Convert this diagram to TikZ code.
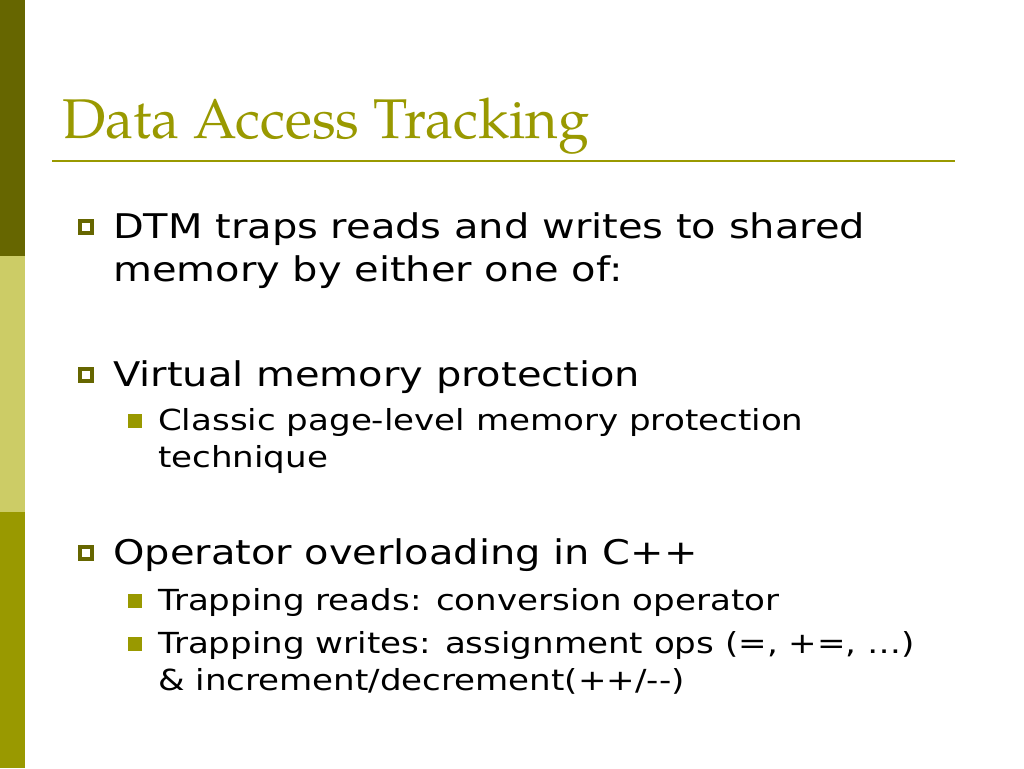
\documentclass[tikz,border=0pt]{standalone}
\usepackage{fontspec}
\setmainfont{DejaVu Sans}[FakeStretch=1.175]
\newfontfamily\titlefont{TeX Gyre Pagella}
\definecolor{dark}{RGB}{102,102,0}
\definecolor{light}{RGB}{204,204,102}
\definecolor{mid}{RGB}{153,153,0}
\definecolor{ttl}{RGB}{153,153,0}
\begin{document}
\begin{tikzpicture}[x=1pt,y=-1pt,
  txt/.style={anchor=base west,inner sep=0pt,font=\fontsize{34}{34}\selectfont},
  sub/.style={anchor=base west,inner sep=0pt,font=\fontsize{29}{29}\selectfont},
  hb/.style={draw=dark,line width=4pt,minimum size=12pt,inner sep=0pt},
  fb/.style={fill=mid,minimum size=14pt,inner sep=0pt}]
\useasboundingbox (0,0) rectangle (1024,768);
\fill[white] (0,0) rectangle (1024,768);
\fill[dark] (0,0) rectangle (25,256);
\fill[light] (0,256) rectangle (25,512);
\fill[mid] (0,512) rectangle (25,768);
\node[anchor=base west,inner sep=0pt,text=ttl,font=\titlefont\fontsize{56}{56}\selectfont] (title) at (62,138) {Data Access Tracking};
\coordinate (l1) at (52,161); \coordinate (l2) at (955,161);
\draw[ttl,line width=1.5pt] (l1) -- (l2);
\node[hb] (b1) at (86,227) {};
\node[txt] (t1) at (113,238) {DTM traps reads and writes to shared};
\node[txt] (t1b) at (113,281) {memory by either one of:};
\node[hb] (b2) at (86,375) {};
\node[txt] (t2) at (113,386) {Virtual memory protection};
\node[fb] (s1) at (135,421) {};
\node[sub] (t3) at (158,430) {Classic page-level memory protection};
\node[sub] (t3b) at (158,467) {technique};
\node[hb] (b3) at (86,553) {};
\node[txt] (t4) at (113,564) {Operator overloading in C++};
\node[fb] (s2) at (135,601) {};
\node[sub] (t5) at (158,610) {Trapping reads: conversion operator};
\node[fb] (s3) at (135,644) {};
\node[sub] (t6) at (158,653) {Trapping writes: assignment ops (=, +=, …)};
\node[sub] (t6b) at (158,690) {\& increment/decrement(++/-{}-)};
\end{tikzpicture}
\end{document}
